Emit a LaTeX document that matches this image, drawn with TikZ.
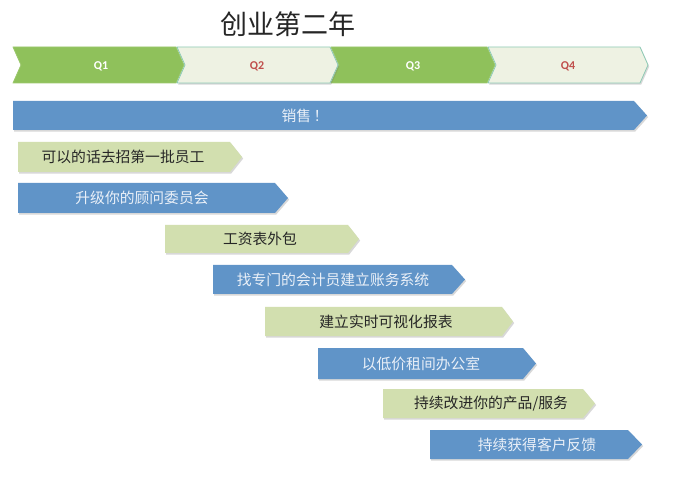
\documentclass[tikz,border=0pt]{standalone}
\usepackage{fontspec}
\setmainfont{Carlito}
\newfontfamily\cjk{Noto Sans CJK SC}
\usetikzlibrary{shadows}
\definecolor{qgreen}{HTML}{8FC15B}
\definecolor{qgreenline}{HTML}{9CC86E}
\definecolor{qlight}{HTML}{EEF2E3}
\definecolor{qlightline}{HTML}{8FCBB6}
\definecolor{qred}{HTML}{C0504D}
\definecolor{barblue}{HTML}{6094C8}
\definecolor{bargreen}{HTML}{D2DFAF}
\definecolor{bluetext}{HTML}{EAF0F8}
\definecolor{greentext}{HTML}{262626}
\newcommand{\qchevron}[7]{% style, L, T, B, R, P, N
  \path[#1] (#2,#3) -- (#5,#3) -- (#6,{(#3+#4)/2}) -- (#5,#4) -- (#2,#4) -- (#7,{(#3+#4)/2}) -- cycle;}
\newcommand{\barshape}[6]{% style, L, T, B, R, P
  \path[#1] (#2,#3) -- (#5,#3) -- (#6,{(#3+#4)/2}) -- (#5,#4) -- (#2,#4) -- cycle;}
\tikzset{
  softshadow/.style={drop shadow={shadow xshift=1.2pt,shadow yshift=-1.6pt,opacity=0.25,fill=black!60}},
  qdark/.style={fill=qgreen,draw=qgreenline,line width=0.8pt,line join=round},
  qpale/.style={fill=qlight,draw=qlightline,line width=0.8pt,line join=round,softshadow},
  bluebar/.style={fill=barblue,softshadow},
  greenbar/.style={fill=bargreen,softshadow},
  qlabw/.style={text=white,font=\fontsize{12}{14}\selectfont\bfseries},
  qlabr/.style={text=qred,font=\fontsize{12}{14}\selectfont\bfseries},
  bluelab/.style={text=bluetext,font=\cjk\fontsize{14.8}{16}\selectfont},
  greenlab/.style={text=greentext,font=\cjk\fontsize{14.8}{16}\selectfont},
  titlelab/.style={text=black!85,font=\cjk\fontsize{27}{29}\selectfont}
}
\begin{document}
\begin{tikzpicture}[x=1pt,y=-1pt]
\useasboundingbox[fill=white] (0,0) rectangle (680,478);
% title
\node[titlelab] (title) at (288,24) {创业第二年};
% quarters
\qchevron{qdark}{13}{47}{83}{176}{184}{21}
\qchevron{qdark}{331}{47}{83}{487}{495}{339}
\qchevron{qpale}{177}{47}{83}{330}{338}{185}
\qchevron{qpale}{488}{47}{83}{640}{648}{496}
\node[qlabw] (q1) at (101,66) {Q1};
\node[qlabr] (q2) at (257,66) {Q2};
\node[qlabw] (q3) at (413,66) {Q3};
\node[qlabr] (q4) at (568,66) {Q4};
% sales
\barshape{bluebar}{13}{101}{130}{634}{647}
\node[bluelab] (sales) at (305,115.5) {销售\,！};
% tasks
\barshape{greenbar}{18}{142}{172}{230}{242}
\node[greenlab] (t1) at (123,157) {可以的话去招第一批员工};
\barshape{bluebar}{18}{183}{213}{275}{288}
\node[bluelab] (t2) at (142,198) {升级你的顾问委员会};
\barshape{greenbar}{165}{225}{253}{348}{359}
\node[greenlab] (t3) at (260,239) {工资表外包};
\barshape{bluebar}{213}{265}{294}{452}{465}
\node[bluelab] (t4) at (333,279.5) {找专门的会计员建立账务系统};
\barshape{greenbar}{265}{307}{336}{502}{513}
\node[greenlab] (t5) at (386,321.5) {建立实时可视化报表};
\barshape{bluebar}{318}{348}{379}{523}{536}
\node[bluelab] (t6) at (421,363.5) {以低价租间办公室};
\barshape{greenbar}{383}{389}{418}{583}{595}
\node[greenlab] (t7) at (491,403.5) {持续改进你的产品/服务};
\barshape{bluebar}{430}{430}{459}{628}{642}
\node[bluelab] (t8) at (537,444.5) {持续获得客户反馈};
\end{tikzpicture}
\end{document}
